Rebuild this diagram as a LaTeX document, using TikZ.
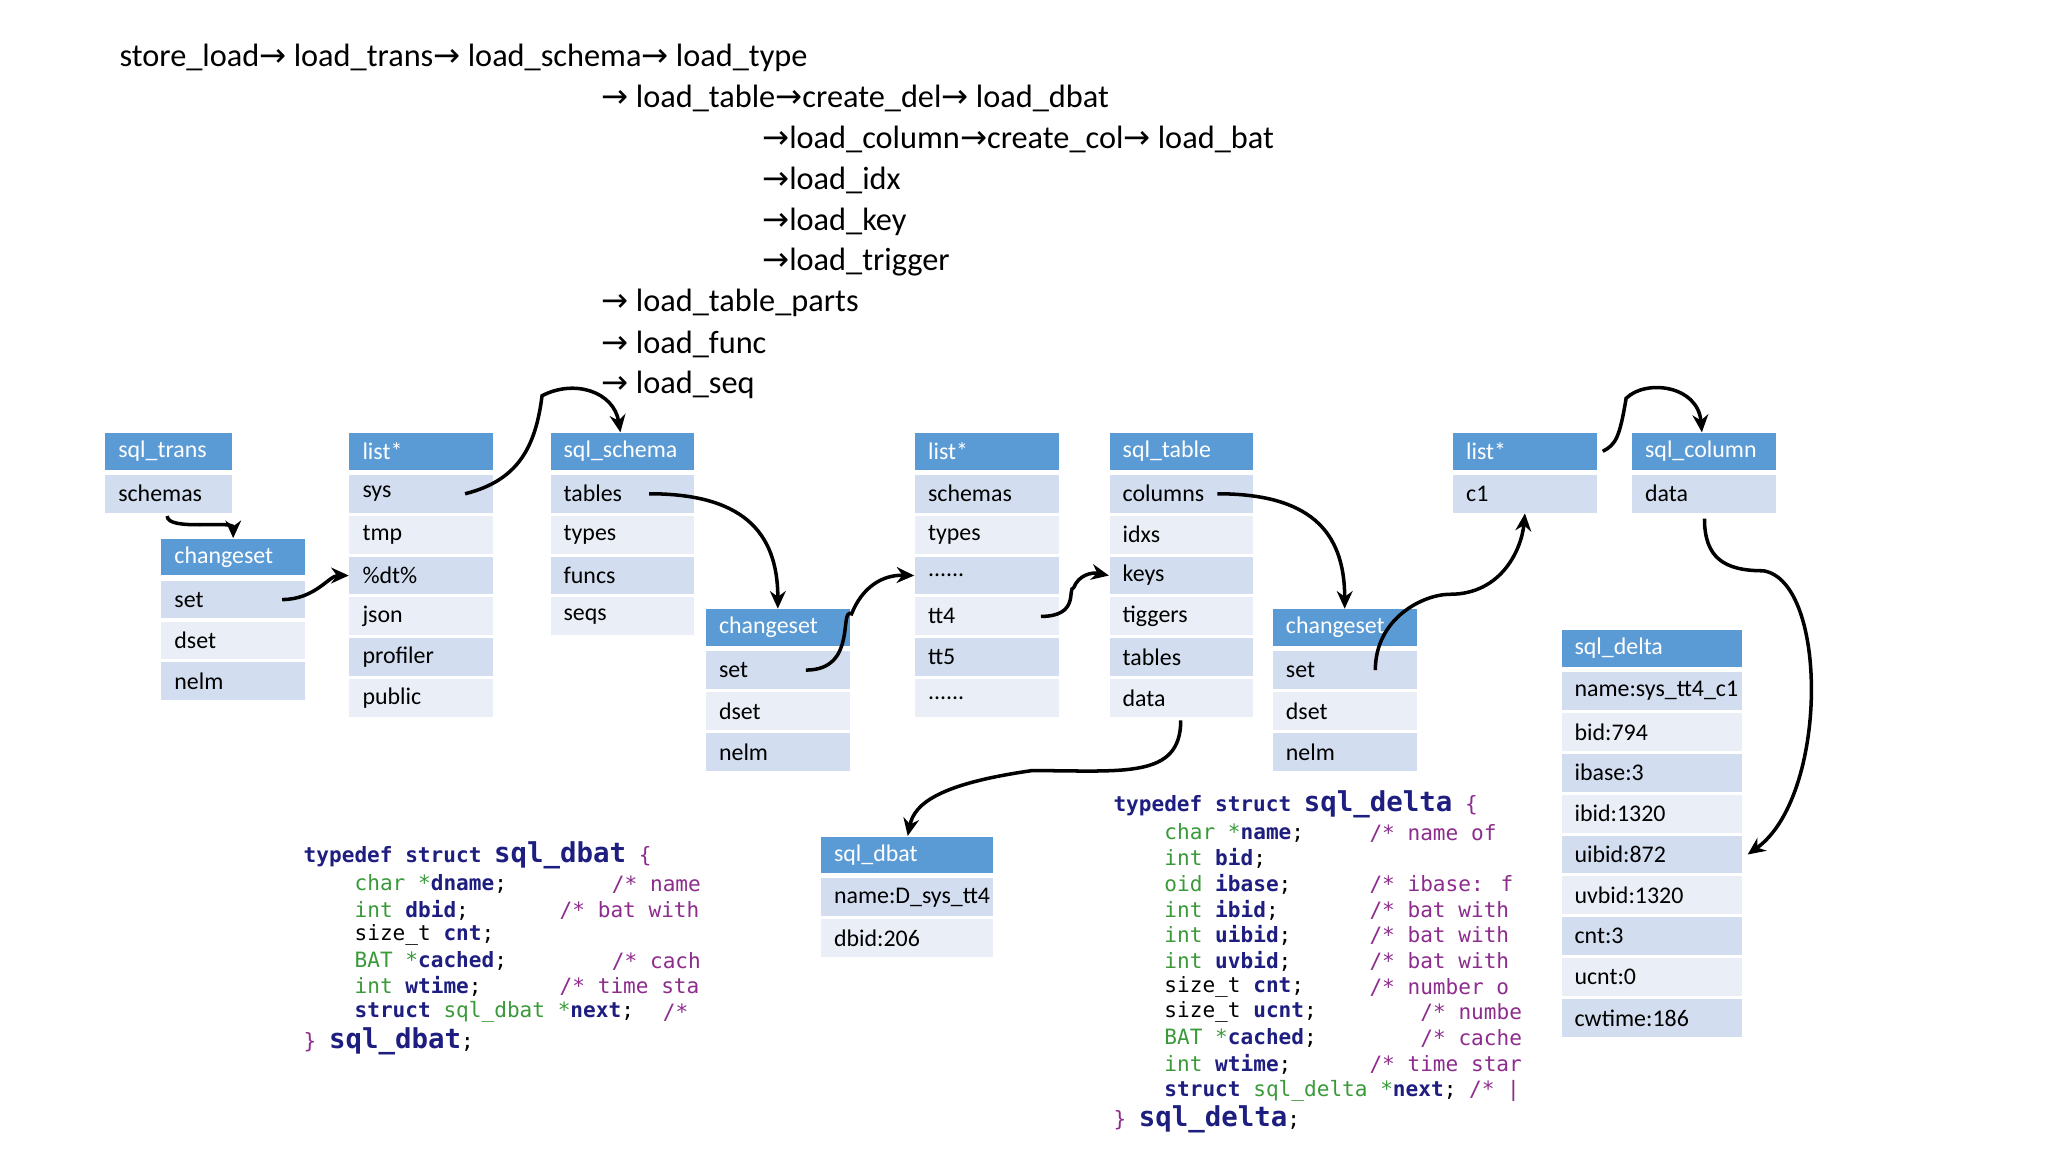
\documentclass[tikz,border=0pt]{standalone}
\usepackage{fontspec}
\setmainfont{Carlito}
\newfontfamily\codef{DejaVu Sans Mono}
\newfontfamily\arrf{DejaVu Sans}
\usetikzlibrary{arrows.meta,calc}
\definecolor{hdrblue}{HTML}{5B9BD5}
\definecolor{rowdark}{HTML}{D2DEEF}
\definecolor{rowlight}{HTML}{EAEFF7}
\definecolor{kwc}{HTML}{1E1E80}
\definecolor{tyc}{HTML}{3A9A3A}
\definecolor{cmc}{HTML}{8E2C8E}
\newcommand\kw[1]{{\bfseries\color{kwc}#1}}
\newcommand\ty[1]{{\color{tyc}#1}}
\newcommand\nmb[1]{{\bfseries\color{kwc}#1}}
\newcommand\cmt[1]{{\color{cmc}#1}}
\newcommand\bigname[1]{{\codef\bfseries\fontsize{7.8}{9}\selectfont\color{kwc}#1}}
\newcommand\ar{{\arrf →}}
\newcommand\sixdots{......}
% table: #1 name, #2 x, #3 y top, #4 width, #5 header, #6 rows
\newcommand\mktab[6]{%
  \node[hdr, text width={(#4-20)*0.013061cm}, anchor=north west] (#1) at (#2,#3) {#5};
  \foreach \t [count=\i] in {#6} {
    \ifodd\i \def\rc{rowdark}\else\def\rc{rowlight}\fi
    \node[row, fill=\rc, text width={(#4-20)*0.013061cm}, anchor=north west]
      (#1-\i) at (#2,{#3+32+(\i-1)*31.3}) {\t};
  }
}
\begin{document}
\begin{tikzpicture}[x=0.013061cm, y=-0.013061cm,
  hdr/.style={fill=hdrblue, text=white, inner xsep={10*0.013061cm}, inner ysep=0pt,
    minimum height={28*0.013061cm}, align=left, font=\fontsize{6.8}{8}\selectfont},
  row/.style={inner xsep={10*0.013061cm}, inner ysep=0pt,
    minimum height={29*0.013061cm}, align=left, font=\fontsize{6.8}{8}\selectfont},
  flow/.style={anchor=west, inner sep=0pt, font=\fontsize{9.2}{11}\selectfont},
  code/.style={anchor=west, inner sep=0pt, font=\codef\fontsize{6}{7}\selectfont},
  link/.style={-{Stealth[length=5pt,width=4.5pt]}, line width=1pt}]
\useasboundingbox (0,0) rectangle (1568,882);
\fill[white] (0,0) rectangle (1568,882);

% call chain
\node[flow] (f1) at (91,44) {store\_load\ar{} load\_trans\ar{} load\_schema\ar{} load\_type};
\node[flow] (f2) at (460,75) {\ar{} load\_table\ar create\_del\ar{} load\_dbat};
\node[flow] (f3) at (583,107) {\ar load\_column\ar create\_col\ar{} load\_bat};
\node[flow] (f4) at (583,138) {\ar load\_idx};
\node[flow] (f5) at (583,170) {\ar load\_key};
\node[flow] (f6) at (583,201) {\ar load\_trigger};
\node[flow] (f7) at (460,232) {\ar{} load\_table\_parts};
\node[flow] (f8) at (460,264) {\ar{} load\_func};
\node[flow] (f9) at (460,295) {\ar{} load\_seq};

% structures
\mktab{tr}{80}{331}{97}{sql\_trans}{schemas}
\mktab{ca}{123}{412}{110}{changeset}{set,dset,nelm}
\mktab{la}{267}{331}{110}{list*}{sys,tmp,\%dt\%,json,profiler,public}
\mktab{sc}{421}{331}{110}{sql\_schema}{tables,types,funcs,seqs}
\mktab{cb}{540}{466}{110}{changeset}{set,dset,nelm}
\mktab{lb}{700}{331}{110}{list*}{schemas,types,\sixdots,tt4,tt5,\sixdots}
\mktab{tb}{849}{331}{110}{sql\_table}{columns,idxs,keys,tiggers,tables,data}
\mktab{cc}{974}{466}{110}{changeset}{set,dset,nelm}
\mktab{lc}{1112}{331}{110}{list*}{c1}
\mktab{co}{1249}{331}{110}{sql\_column}{data}
\mktab{de}{1195}{482}{138}{sql\_delta}{name:sys\_tt4\_c1,bid:794,ibase:3,ibid:1320,uibid:872,uvbid:1320,cnt:3,ucnt:0,cwtime:186}
\mktab{db}{628}{640}{132}{sql\_dbat}{name:D\_sys\_tt4,dbid:206}

% links
\draw[link] ($(tr-1.south west)+(48,2)$) .. controls +(0,12) and +(0,-14) .. (ca.north);
\draw[link] ($(ca-1.east)+(-18,0)$) .. controls +(25,0) and +(-15,0) .. (la-3.west);
\draw[link] ($(la-1.east)+(-22,0)$) .. controls +(40,-10) and +(-5,40) .. (415,303)
  .. controls (440,290) and (470,300) .. ($(sc.north west)+(54,0)$);
\draw[link] ($(sc-1.west)+(76,0)$) .. controls +(70,0) and +(0,-60) .. (cb.north);
\draw[link] ($(cb-1.west)+(77,0)$) .. controls +(40,0) and +(-10,-5) .. (652,470)
  .. controls (660,450) and (675,440) .. (lb-3.west);
\draw[link] ($(lb-4.west)+(97,0)$) .. controls +(30,0) and +(-5,0) .. (822,450)
  .. controls (826,440) and (836,438) .. (tb-3.west);
\draw[link] ($(tb-1.west)+(83,0)$) .. controls +(70,0) and +(0,-60) .. (cc.north);
\draw[link] ($(cc-1.west)+(79,0)$) .. controls +(0,-40) and +(-20,0) .. (1110,455)
  .. controls (1150,455) and (1165,420) .. (lc-1.south);
\draw[link] ($(lc.east)+(4,0)$) .. controls +(10,-5) and +(-5,30) .. (1245,305)
  .. controls (1260,290) and (1300,295) .. ($(co.north west)+(54,0)$);
\draw[link] ($(co-1.south west)+(56,4)$) .. controls +(0,30) and +(-30,0) .. (1350,437)
  .. controls (1400,445) and (1400,610) .. ($(de-5.east)+(4,0)$);
\draw[link] ($(tb-6.south west)+(55,2)$) .. controls +(0,45) and +(70,0) .. (790,590)
  .. controls (720,600) and (700,615) .. ($(db.north west)+(67,0)$);

% sql_dbat code
\node[code] (a0) at (232,655) {\kw{typedef struct} \bigname{sql\_dbat} \cmt{\{}};
\node[code] (a1) at (271,677) {\ty{char *}\nmb{dname};};
\node[code] (a1c) at (468,677) {\cmt{/* name}};
\node[code] (a2) at (271,697) {\ty{int} \nmb{dbid};};
\node[code] (a2c) at (428,697) {\cmt{/* bat with}};
\node[code] (a3) at (271,716) {size\_t \nmb{cnt};};
\node[code] (a4) at (271,736) {\ty{BAT *}\nmb{cached};};
\node[code] (a4c) at (468,736) {\cmt{/* cach}};
\node[code] (a5) at (271,755) {\ty{int} \nmb{wtime};};
\node[code] (a5c) at (428,755) {\cmt{/* time sta}};
\node[code] (a6) at (271,775) {\kw{struct} \ty{sql\_dbat *}\nmb{next};};
\node[code] (a6c) at (507,775) {\cmt{/*}};
\node[code] (a7) at (232,797) {\cmt{\}} \bigname{sql\_dbat};};

% sql_delta code
\node[code] (b0) at (852,616) {\kw{typedef struct} \bigname{sql\_delta} \cmt{\{}};
\node[code] (b1) at (891,638) {\ty{char *}\nmb{name};};
\node[code] (b1c) at (1048,638) {\cmt{/* name of}};
\node[code] (b2) at (891,657) {\ty{int} \nmb{bid};};
\node[code] (b3) at (891,677) {\ty{oid} \nmb{ibase};};
\node[code] (b3c) at (1048,677) {\cmt{/* ibase: f}};
\node[code] (b4) at (891,697) {\ty{int} \nmb{ibid};};
\node[code] (b4c) at (1048,697) {\cmt{/* bat with}};
\node[code] (b5) at (891,716) {\ty{int} \nmb{uibid};};
\node[code] (b5c) at (1048,716) {\cmt{/* bat with}};
\node[code] (b6) at (891,736) {\ty{int} \nmb{uvbid};};
\node[code] (b6c) at (1048,736) {\cmt{/* bat with}};
\node[code] (b7) at (891,756) {size\_t \nmb{cnt};};
\node[code] (b7c) at (1048,756) {\cmt{/* number o}};
\node[code] (b8) at (891,775) {size\_t \nmb{ucnt};};
\node[code] (b8c) at (1087,775) {\cmt{/* numbe}};
\node[code] (b9) at (891,795) {\ty{BAT *}\nmb{cached};};
\node[code] (b9c) at (1087,795) {\cmt{/* cache}};
\node[code] (b10) at (891,815) {\ty{int} \nmb{wtime};};
\node[code] (b10c) at (1048,815) {\cmt{/* time star}};
\node[code] (b11) at (891,835) {\kw{struct} \ty{sql\_delta *}\nmb{next}; \cmt{/* |}};
\node[code] (b12) at (852,857) {\cmt{\}} \bigname{sql\_delta};};
\end{tikzpicture}
\end{document}
